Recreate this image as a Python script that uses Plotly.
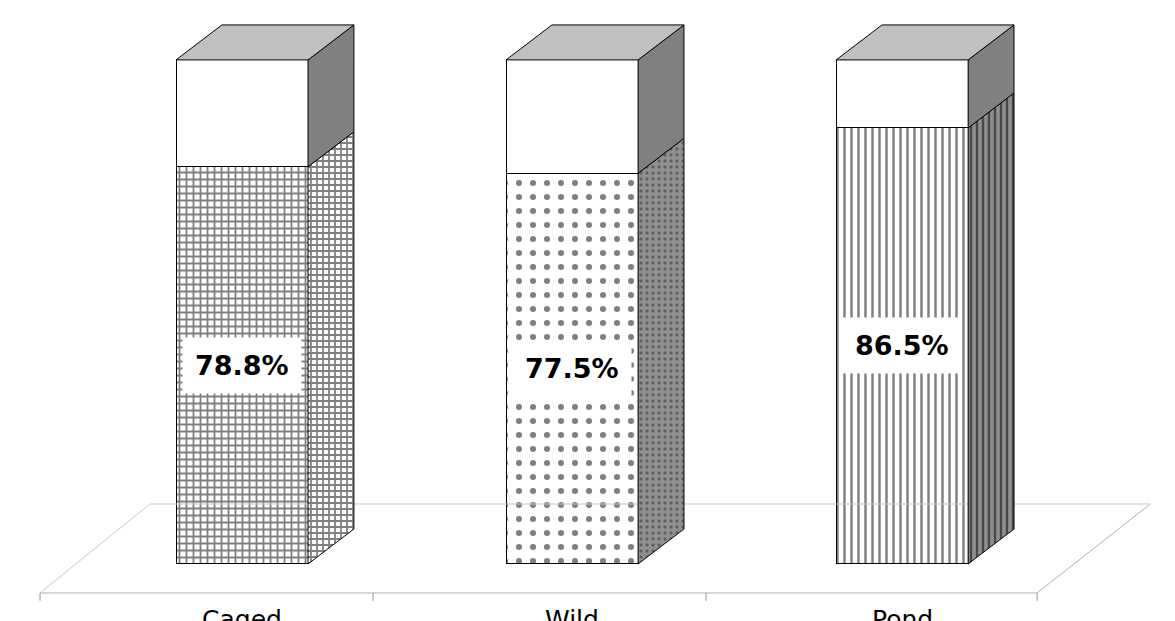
import plotly.graph_objects as go

categories = ["Caged", "Wild", "Pond"]
values = [78.8, 77.5, 86.5]
labels = ["78.8%", "77.5%", "86.5%"]
shapes_front = ["+", ".", "|"]
shapes_side = ["+", ".", "|"]

xpos = [0, 1, 2]
w = 0.4
dx = 0.139
dy = 6.94

fig = go.Figure()

# floor
fl = [-0.612, 2.409, 2.752, -0.279]
fig.add_trace(go.Scatter(x=[fl[0], fl[1], fl[2]], y=[-5.75, -5.75, 11.9], mode="lines",
                         line=dict(color="#b0b0b0", width=1), hoverinfo="skip"))
fig.add_trace(go.Scatter(x=[fl[0], fl[3], fl[2]], y=[-5.75, 11.9, 11.9], mode="lines",
                         line=dict(color="#c8c8c8", width=1), hoverinfo="skip"))
for t in [-0.612, 0.397, 1.406, 2.409]:
    fig.add_trace(go.Scatter(x=[t, t], y=[-5.75, -7.3], mode="lines",
                             line=dict(color="#909090", width=1), hoverinfo="skip"))

side_fg = ["black", "#303030", "black"]
side_bg = ["white", "#909090", "#909090"]
side_sol = [0.5, 0.25, 0.4]
for i, (x, v) in enumerate(zip(xpos, values)):
    r = x + w / 2
    # side lower (patterned)
    fig.add_trace(go.Scatter(x=[r, r + dx, r + dx, r, r], y=[0, dy, v + dy, v, 0],
                             fill="toself", mode="lines", line=dict(color="black", width=1),
                             fillcolor="#707070",
                             fillpattern=dict(shape=shapes_side[i], fgcolor=side_fg[i],
                                              bgcolor=side_bg[i], size=6, solidity=side_sol[i]),
                             hoverinfo="skip"))
    # side upper
    fig.add_trace(go.Scatter(x=[r, r + dx, r + dx, r, r], y=[v, v + dy, 100 + dy, 100, v],
                             fill="toself", mode="lines", line=dict(color="black", width=1),
                             fillcolor="#808080", hoverinfo="skip"))
    # top
    l = x - w / 2
    fig.add_trace(go.Scatter(x=[l, r, r + dx, l + dx, l], y=[100, 100, 100 + dy, 100 + dy, 100],
                             fill="toself", mode="lines", line=dict(color="black", width=1),
                             fillcolor="#c0c0c0", hoverinfo="skip"))

fig.add_trace(go.Bar(x=xpos, y=values, width=w,
                     marker=dict(color="white", line=dict(color="black", width=1),
                                 pattern=dict(shape=shapes_front, fgcolor="black", bgcolor="white",
                                              size=[7, 14, 7], solidity=[0.45, 0.15, 0.35]))))
fig.add_trace(go.Bar(x=xpos, y=[100 - v for v in values], width=w,
                     marker=dict(color="white", line=dict(color="black", width=1))))

for x, v, t, c in zip(xpos, values, labels, categories):
    fig.add_annotation(x=x, y=v / 2, text="<b>%s</b>" % t, showarrow=False, bgcolor="white",
                       borderpad=12, font=dict(size=27, color="black", family="DejaVu Sans"))
    fig.add_annotation(x=x, y=-11.0, text=c, showarrow=False,
                       font=dict(size=25, color="black", family="DejaVu Sans"))

fig.update_layout(width=1175, height=621, barmode="stack", showlegend=False,
                  margin=dict(l=0, r=0, t=0, b=0), plot_bgcolor="white", paper_bgcolor="white",
                  xaxis=dict(range=[-0.709, 2.851], visible=False),
                  yaxis=dict(range=[-12.9, 110.3], visible=False))
fig.write_html("out.html")
